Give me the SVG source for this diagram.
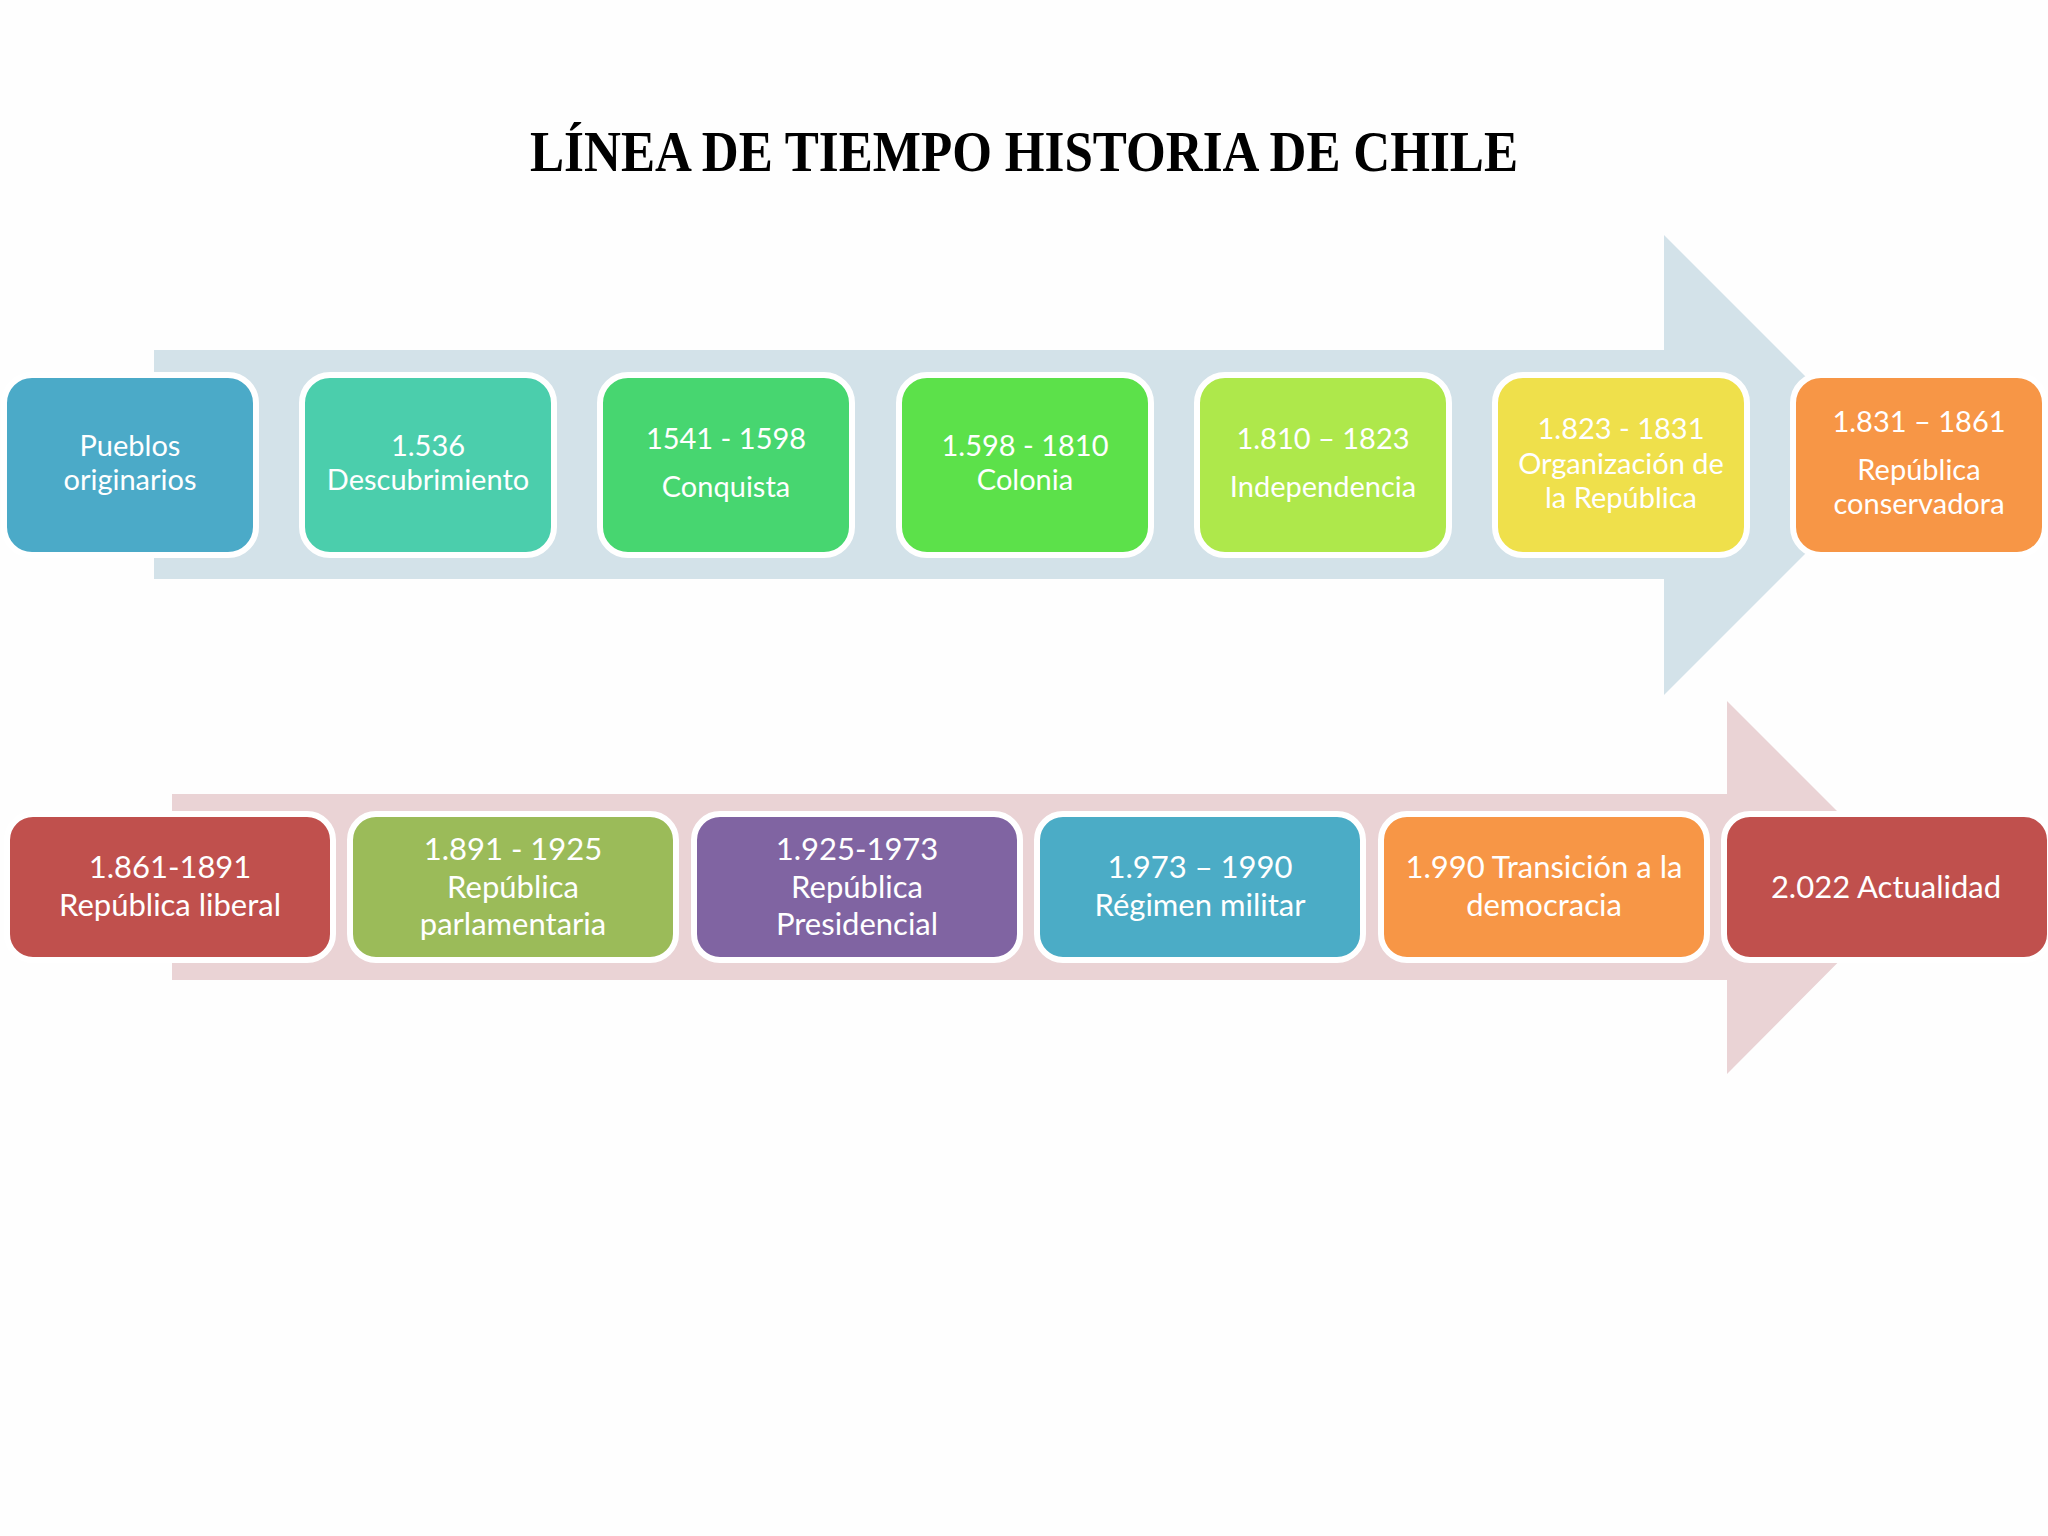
<svg xmlns="http://www.w3.org/2000/svg" width="2048" height="1536" viewBox="0 0 2048 1536">
<style>
.box{stroke:#ffffff;stroke-width:6}
.t{font-family:Lato,"Open Sans",sans-serif;fill:#ffffff;text-anchor:middle;font-size:29px}
.b{font-size:31px}
.title{font-family:"Liberation Serif","Times New Roman",serif;font-weight:bold;font-size:58px;fill:#000000;text-anchor:middle}
</style>
<rect width="2048" height="1536" fill="#fefefe"/>
<text class="title" x="1024" y="171" textLength="988" lengthAdjust="spacingAndGlyphs">LÍNEA DE TIEMPO HISTORIA DE CHILE</text>
<g id="connectors">
<path id="arrow-top" d="M154 350 H1664 V235 L1894 465 L1664 695 V579 H154 Z" fill="#d3e2e9"/>
<path id="arrow-bottom" d="M172 794 H1727 V701 L1913 887 L1727 1074 V980 H172 Z" fill="#ead3d5"/>
</g>
<g id="n1"><rect class="box" x="4" y="375" width="252" height="180" rx="28" fill="#4baac8"/><text class="t" x="130"><tspan x="130" y="456">Pueblos</tspan><tspan x="130" y="490">originarios</tspan></text></g>
<g id="n2"><rect class="box" x="302" y="375" width="252" height="180" rx="28" fill="#4bceac"/><text class="t" x="428"><tspan x="428" y="456">1.536</tspan><tspan x="428" y="490">Descubrimiento</tspan></text></g>
<g id="n3"><rect class="box" x="600" y="375" width="252" height="180" rx="28" fill="#47d670"/><text class="t" x="726"><tspan x="726" y="449">1541 - 1598</tspan><tspan x="726" y="497">Conquista</tspan></text></g>
<g id="n4"><rect class="box" x="899" y="375" width="252" height="180" rx="28" fill="#5ce14a"/><text class="t" x="1025"><tspan x="1025" y="456">1.598 - 1810</tspan><tspan x="1025" y="490">Colonia</tspan></text></g>
<g id="n5"><rect class="box" x="1197" y="375" width="252" height="180" rx="28" fill="#aee84b"/><text class="t" x="1323"><tspan x="1323" y="449">1.810 – 1823</tspan><tspan x="1323" y="497">Independencia</tspan></text></g>
<g id="n6"><rect class="box" x="1495" y="375" width="252" height="180" rx="28" fill="#efe04b"/><text class="t" x="1621"><tspan x="1621" y="439">1.823 - 1831</tspan><tspan x="1621" y="474">Organización de</tspan><tspan x="1621" y="508">la República</tspan></text></g>
<g id="n7"><rect class="box" x="1793" y="375" width="252" height="180" rx="28" fill="#f79646"/><text class="t" x="1919"><tspan x="1919" y="432">1.831 – 1861</tspan><tspan x="1919" y="480">República</tspan><tspan x="1919" y="514">conservadora</tspan></text></g>
<g id="n8"><rect class="box" x="7" y="814" width="326" height="146" rx="26" fill="#c0504d"/><text class="t b" x="170"><tspan x="170" y="878">1.861-1891</tspan><tspan x="170" y="916">República liberal</tspan></text></g>
<g id="n9"><rect class="box" x="350" y="814" width="326" height="146" rx="26" fill="#9bbb59"/><text class="t b" x="513"><tspan x="513" y="860">1.891 - 1925</tspan><tspan x="513" y="898">República</tspan><tspan x="513" y="935">parlamentaria</tspan></text></g>
<g id="n10"><rect class="box" x="694" y="814" width="326" height="146" rx="26" fill="#8064a2"/><text class="t b" x="857"><tspan x="857" y="860">1.925-1973</tspan><tspan x="857" y="898">República</tspan><tspan x="857" y="935">Presidencial</tspan></text></g>
<g id="n11"><rect class="box" x="1037" y="814" width="326" height="146" rx="26" fill="#4bacc6"/><text class="t b" x="1200"><tspan x="1200" y="878">1.973 – 1990</tspan><tspan x="1200" y="916">Régimen militar</tspan></text></g>
<g id="n12"><rect class="box" x="1381" y="814" width="326" height="146" rx="26" fill="#f79646"/><text class="t b" x="1544"><tspan x="1544" y="878">1.990 Transición a la</tspan><tspan x="1544" y="916">democracia</tspan></text></g>
<g id="n13"><rect class="box" x="1724" y="814" width="326" height="146" rx="26" fill="#c0504d"/><text class="t b" x="1886"><tspan x="1886" y="898">2.022 Actualidad</tspan></text></g>
</svg>
